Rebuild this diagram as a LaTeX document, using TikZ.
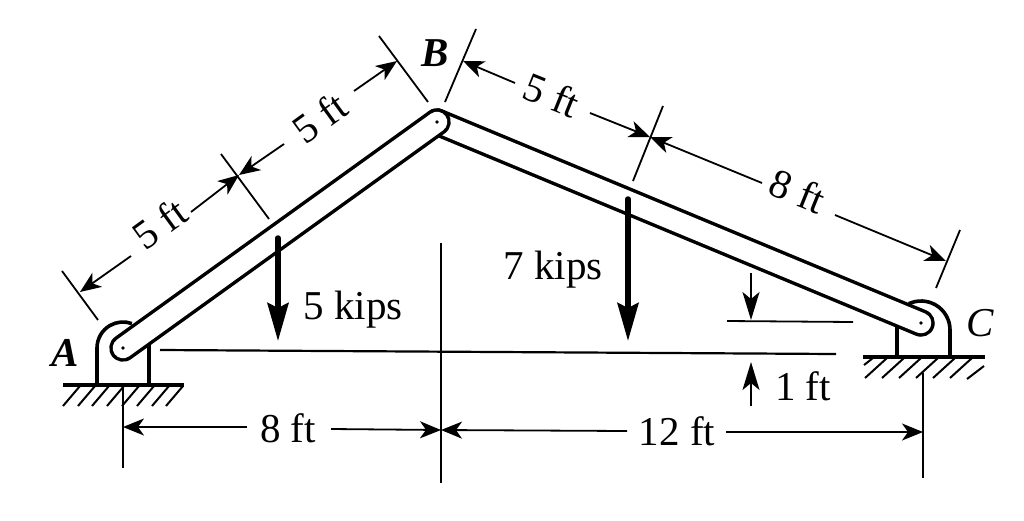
\documentclass[tikz,border=0pt]{standalone}
\usepackage{fontspec}
\setmainfont{Liberation Serif}
\usetikzlibrary{arrows.meta}
\tikzset{
  x=1pt,y=-1pt,
  thinline/.style={line width=1.8pt,black},
  dimarrow/.style={line width=1.8pt,black,-{Stealth[length=21pt,width=17pt,inset=6pt]}},
  smallarrow/.style={line width=1.8pt,black,-{Stealth[length=28pt,width=17pt,inset=7pt]}},
  force/.style={line width=5.5pt,black,line cap=round,-{Stealth[length=38pt,width=21pt,inset=5pt]}},
  support/.style={line width=3.6pt,black},
  ground/.style={line width=3.6pt,black},
  hatch/.style={line width=2pt,black},
  lbl/.style={font=\fontsize{41}{43}\selectfont,inner sep=0pt},
  pt/.style={font=\fontsize{41}{43}\selectfont\itshape,inner sep=0pt},
}
\newcommand{\barshape}[2]{%
  \draw[line width=27.5pt,line cap=round,black] (#1) -- (#2);
  \draw[line width=20.5pt,line cap=round,white] (#1) -- (#2);
}
\begin{document}
\begin{tikzpicture}
\useasboundingbox[fill=white] (0,0) rectangle (1024,520);
% pins
\coordinate (A) at (123,348);
\coordinate (B) at (437,122);
\coordinate (C) at (921,323);
% supports
\coordinate (ag1) at (63,385); \coordinate (ag2) at (184,385);
\coordinate (cg1) at (863,357); \coordinate (cg2) at (985,357);
\draw[support] (97,385) -- (97,348) arc[start angle=180,end angle=290,radius=26];
\draw[support] (149,385) -- (149,345);
\draw[support] (897,357) -- (897,323);
\draw[support] (950,357) -- (950,330) arc[start angle=0,end angle=-115,radius=29];
\draw[ground] (ag1) -- (ag2);
\draw[ground] (cg1) -- (cg2);
\foreach \x in {63,78,92,107,122,137,152,166}
  \draw[hatch] (\x,406) -- ++(17,-20);
\foreach \x in {865,882,899,916,933,950}
  \draw[hatch] (\x,378) -- ++(22,-20);
\draw[hatch] (864,365) -- ++(9,-7);
\draw[hatch] (967,379) -- ++(17,-13);
% reference lines
\coordinate (r1) at (160,350); \coordinate (r2) at (836,354);
\coordinate (r3) at (727,321); \coordinate (r4) at (853,322);
\draw[thinline,line width=2.2pt] (r1) -- (r2);
\draw[thinline] (r3) -- (r4);
% bars
\barshape{C}{B}
\barshape{A}{B}
\fill (A) circle (1.8pt);
\fill (B) circle (1.8pt);
\fill (C) circle (1.8pt);
% forces
\coordinate (f1a) at (278,238); \coordinate (f1b) at (278,341);
\coordinate (f2a) at (628,199); \coordinate (f2b) at (628,341);
\draw[force] (f1a) -- (f1b);
\draw[force] (f2a) -- (f2b);
\node[lbl] (k5) at (353,310) {5 kips};
\node[lbl] (k7) at (553,270) {7 kips};
% witness lines
\coordinate (v1a) at (123,385); \coordinate (v1b) at (123,468);
\coordinate (v2a) at (441,243); \coordinate (v2b) at (441,483);
\coordinate (v3a) at (923,373); \coordinate (v3b) at (923,478);
\draw[thinline] (v1a) -- (v1b);
\draw[thinline] (v2a) -- (v2b);
\draw[thinline] (v3a) -- (v3b);
% horizontal dimensions
\coordinate (h1) at (123,427); \coordinate (h2) at (441,430); \coordinate (h3) at (923,432);
\node[lbl] (d8) at (288,428) {8 ft};
\node[lbl] (d12) at (677,431) {12 ft};
\draw[dimarrow] (247,427) -- (h1);
\draw[dimarrow] (331,429) -- (h2);
\draw[dimarrow] (627,431) -- (h2);
\draw[dimarrow] (726,432) -- (h3);
% 1 ft
\coordinate (u1) at (751,273); \coordinate (u2) at (751,320);
\coordinate (u3) at (751,406); \coordinate (u4) at (751,362);
\draw[smallarrow] (u1) -- (u2);
\draw[smallarrow] (u3) -- (u4);
\node[lbl] (d1) at (803,386) {1 ft};
% AB dimension
\coordinate (t1a) at (62,271); \coordinate (t1b) at (98,320);
\coordinate (t2a) at (221,154); \coordinate (t2b) at (269,219);
\coordinate (t3a) at (379,36); \coordinate (t3b) at (428,102);
\coordinate (p1) at (80,292); \coordinate (p2) at (239,175); \coordinate (p3) at (397,61);
\draw[thinline] (t1a) -- (t1b);
\draw[thinline] (t2a) -- (t2b);
\draw[thinline] (t3a) -- (t3b);
\node[lbl,rotate=36] (d5a) at (160,224) {5 ft};
\node[lbl,rotate=36] (d5b) at (320,118) {5 ft};
\draw[dimarrow] (131,256) -- (p1);
\draw[dimarrow] (191,212) -- (p2);
\draw[dimarrow] (284,144) -- (p2);
\draw[dimarrow] (354,91) -- (p3);
% BC dimension
\coordinate (s1a) at (476,29); \coordinate (s1b) at (445,102);
\coordinate (s2a) at (663,106); \coordinate (s2b) at (633,181);
\coordinate (s3a) at (960,230); \coordinate (s3b) at (936,288);
\coordinate (q1) at (463,61); \coordinate (q2) at (650,137); \coordinate (q3) at (946,261);
\draw[thinline] (s1a) -- (s1b);
\draw[thinline] (s2a) -- (s2b);
\draw[thinline] (s3a) -- (s3b);
\node[lbl,rotate=-22] (d5c) at (552,95) {5 ft};
\node[lbl,rotate=-22] (d8c) at (798,191) {8 ft};
\draw[dimarrow] (515,83) -- (q1);
\draw[dimarrow] (590,113) -- (q2);
\draw[dimarrow] (762,183) -- (q2);
\draw[dimarrow] (835,215) -- (q3);
% point labels
\node[pt,font=\fontsize{41}{43}\selectfont\bfseries\itshape] (la) at (65,353) {A};
\node[pt,font=\fontsize{41}{43}\selectfont\bfseries\itshape] (lb) at (435,53) {B};
\node[pt] (lc) at (980,323) {C};
\end{tikzpicture}
\end{document}
